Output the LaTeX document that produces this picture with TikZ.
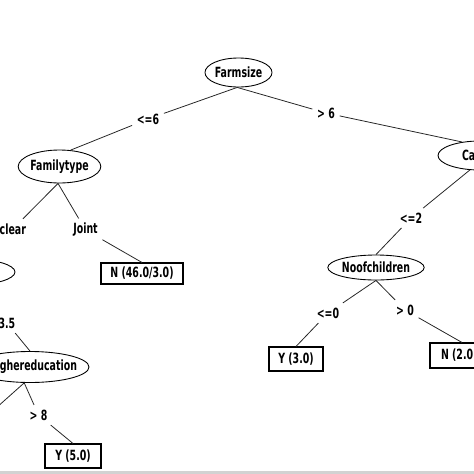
\documentclass[tikz,border=0pt]{standalone}
\usepackage{fontspec}
\newfontfamily\wekafont{DejaVu Sans}[FakeStretch=0.67]
\usetikzlibrary{shapes.geometric}

\begin{document}
\begin{tikzpicture}[
  x = 0.02cm, y = -0.02cm,
  split/.style = {draw, ellipse, line width=0.5pt, inner sep=0pt,
                  font=\wekafont\bfseries\fontsize{8}{9}\selectfont},
  leaf/.style  = {draw, rectangle, line width=0.6pt, inner sep=0pt,
                  font=\wekafont\bfseries\fontsize{8}{9}\selectfont},
  lbl/.style   = {inner sep=2.5pt,
                  font=\wekafont\bfseries\fontsize{8}{9}\selectfont},
  edge/.style  = {line width=0.45pt, draw=black!85}
]
\useasboundingbox (0,0) rectangle (474,474);
\clip (0,0) rectangle (474,474);

%── Split nodes ───────────────────────────────────────────────────────────
\node[split, minimum width=1.34cm, minimum height=0.58cm] (farmsize) at (238.5,72.5) {Farmsize};
\node[split, minimum width=1.5cm, minimum height=0.66cm] (familytype) at (59.5,166.5) {Familytype};
\node[split, minimum width=1.68cm, minimum height=0.58cm] (ca) at (480,155.5)
  {\makebox[0.72cm][l]{Ca}};
\node[split, minimum width=1.92cm, minimum height=0.5cm] (noofchildren) at (376,267.5) {Noofchildren};
\node[split, minimum width=1.8cm, minimum height=0.52cm] (hidden) at (-30,272) {};
\node[split, inner xsep=-0.2cm, minimum width=2.36cm, minimum height=0.62cm] (highered) at (30,367)
  {\makebox[1.88cm][r]{ghereducation}};

%── Leaves ────────────────────────────────────────────────────────────────
\node[leaf, minimum width=1.64cm, minimum height=0.42cm] (leaf_joint) at (142,273.5) {N (46.0/3.0)};
\node[leaf, minimum width=1.08cm, minimum height=0.48cm] (leaf_y3) at (296,359) {Y (3.0)};
\node[leaf, minimum width=1.28cm, minimum height=0.5cm] (leaf_n2) at (462,355.5)
  {\makebox[0.84cm][l]{N (2.0}};
\node[leaf, minimum width=1.12cm, minimum height=0.48cm] (leaf_y5) at (73,456) {Y (5.0)};

%── Branch labels ─────────────────────────────────────────────────────────
\node[lbl] (lbl_le6) at (148,119) {<=6};
\node[lbl] (lbl_gt6) at (326,113) {> 6};
\node[lbl, anchor=west] (lbl_clear) at (-5,229) {clear};
\node[lbl] (lbl_joint) at (85.5,230) {Joint};
\node[lbl] (lbl_le2) at (411,218) {<=2};
\node[lbl] (lbl_le0) at (328,313) {<=0};
\node[lbl] (lbl_gt0) at (405,310) {> 0};
\node[lbl, anchor=east] (lbl_35) at (20,323) {3.5};
\node[lbl] (lbl_gt8) at (38.5,415) {> 8};
\coordinate (off_left) at (-23,425);

%── Edges ─────────────────────────────────────────────────────────────────
\draw[edge] (farmsize.265) -- (lbl_le6);
\draw[edge] (lbl_le6) -- (familytype.56);
\draw[edge] (farmsize.265) -- (lbl_gt6);
\draw[edge] (lbl_gt6) -- (ca.143);

\draw[edge] (familytype.265) -- (lbl_clear);
\draw[edge] (lbl_clear) -- (hidden.north);
\draw[edge] (familytype.265) -- (lbl_joint);
\draw[edge] (lbl_joint) -- (leaf_joint.north);

\draw[edge] (ca.235) -- (lbl_le2);
\draw[edge] (lbl_le2) -- (noofchildren.north);
\draw[edge] (noofchildren.south) -- (lbl_le0);
\draw[edge] (lbl_le0) -- (leaf_y3.north);
\draw[edge] (noofchildren.south) -- (lbl_gt0);
\draw[edge] (lbl_gt0) -- (leaf_n2.north);

\draw[edge] (hidden.south) -- (lbl_35.north west);
\draw[edge] (lbl_35) -- (highered.north);
\draw[edge] (highered.250) -- (off_left);
\draw[edge] (highered.250) -- (lbl_gt8);
\draw[edge] (lbl_gt8) -- (leaf_y5.north);

%── Bottom bar ────────────────────────────────────────────────────────────
\fill[gray!35] (0,471) rectangle (474,474);
\end{tikzpicture}
\end{document}
